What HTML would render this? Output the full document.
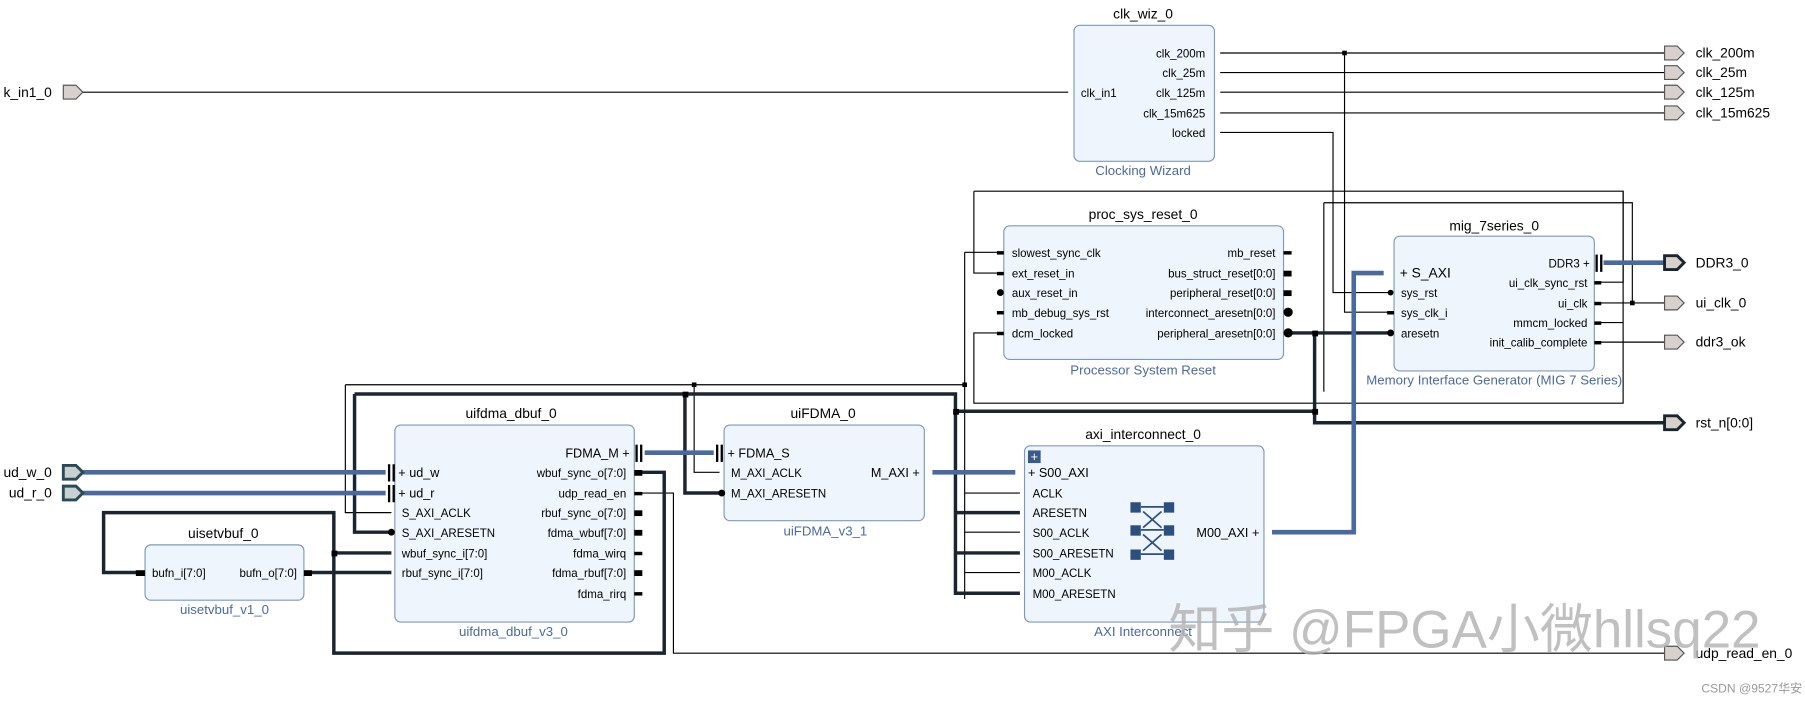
<!DOCTYPE html>
<html><head><meta charset="utf-8"><style>
html,body{margin:0;padding:0;background:#fff;width:1805px;height:705px;overflow:hidden}
svg text{font-family:"Liberation Sans","Noto Sans CJK SC",sans-serif;font-size:10px;fill:#000}
.t{font-size:12px;text-anchor:middle}
.l{font-size:11.5px;fill:#4a6a9a;text-anchor:middle}
.r{text-anchor:end}
.box{fill:#eef5fc;stroke:#7f9ab8;stroke-width:1}
.w{stroke:#000;stroke-width:1;fill:none}
.k{stroke:#1a2530;stroke-width:3;fill:none}
.b{stroke:#4a6a9f;stroke-width:4;fill:none}
.pt{fill:#d8d0cc;stroke:#555;stroke-width:1}
</style></head><body>
<svg width="1805" height="705" viewBox="0 0 1568 612" preserveAspectRatio="none" xmlns="http://www.w3.org/2000/svg">
<g class="w">
<path d="M72 80H928"/>
<path d="M1060 46H1446M1060 63H1446M1060 80H1446M1060 98H1446"/>
<path d="M1060 115H1158V254H1206"/>
<path d="M1168 46V271H1206"/>
<path d="M846 166H1410V350H846V289H866M846 166V237H866"/>
<path d="M1390 280H1410"/>
<path d="M1150 176H1418V263M1150 176V340"/>
<path d="M1390 245H1410V166"/>
<path d="M1390 263H1446M1390 297H1446"/>
<path d="M838 219H866M838 219V520"/>
<path d="M300 334H838M300 334V445H340M603 334V410H625"/>
<path d="M838 428H886M838 462H886M838 497H886"/>
<path d="M557 428H585V567H1446"/>
</g>
<g class="k">
<path d="M308 342H830V515H886M308 342V462H340M595 342V428H625M830 445H886M830 480H886"/>
<path d="M830 357H1142M1120 289H1206M1142 289V367H1446"/>
<path d="M557 410H577V567H290V445H90V497H120M290 480H340M270 497H340"/>
</g>
<g class="b">
<path d="M72 410H335M72 428H335"/>
<path d="M560 393H620M810 410H882M1105 462H1176V237H1202M1393 228H1446"/>
</g>
<g fill="#000"><rect x="1166" y="44" width="4" height="4"/><rect x="601" y="332" width="4" height="4"/><rect x="836" y="332" width="4" height="4"/><rect x="288" y="478" width="5" height="5"/><rect x="593" y="340" width="5" height="5"/><rect x="828" y="355" width="5" height="5"/><rect x="1140" y="287" width="5" height="5"/><rect x="1140" y="355" width="5" height="5"/><rect x="1416" y="261" width="4" height="4"/></g>
<g class="pt">
<path d="M55 74h11l6 6-6 6h-11z"/>
<path d="M1446 40h11l6 6-6 6h-11zM1446 57h11l6 6-6 6h-11zM1446 74h11l6 6-6 6h-11zM1446 92h11l6 6-6 6h-11z"/>
<path d="M1446 257h11l6 6-6 6h-11zM1446 291h11l6 6-6 6h-11zM1446 561h11l6 6-6 6h-11z"/>
<path d="M1446 222h11l6 6-6 6h-11zM1446 361h11l6 6-6 6h-11z" style="stroke:#1a2530;stroke-width:2.5"/>
<path d="M55 404h11l6 6-6 6h-11zM55 422h11l6 6-6 6h-11z" style="fill:#c8d0d0;stroke:#2a4a5a;stroke-width:2.5"/>
</g>
<text x="45" y="84" class="r" style="font-size:12px">k_in1_0</text>
<text x="45" y="414" class="r" style="font-size:12px">ud_w_0</text>
<text x="45" y="432" class="r" style="font-size:12px">ud_r_0</text>
<g style="font-size:12px">
<text x="1473" y="50" style="font-size:12px">clk_200m</text><text x="1473" y="67" style="font-size:12px">clk_25m</text><text x="1473" y="84" style="font-size:12px">clk_125m</text><text x="1473" y="102" style="font-size:12px">clk_15m625</text>
<text x="1473" y="232" style="font-size:12px">DDR3_0</text><text x="1473" y="267" style="font-size:12px">ui_clk_0</text><text x="1473" y="301" style="font-size:12px">ddr3_ok</text><text x="1473" y="371" style="font-size:12px">rst_n[0:0]</text><text x="1473" y="571" style="font-size:12px">udp_read_en_0</text>
</g>
<text x="993" y="16" class="t">clk_wiz_0</text>
<rect class="box" x="933" y="22" width="122" height="118" rx="5"/>
<text x="993" y="152" class="l">Clocking Wizard</text>
<text x="939" y="84">clk_in1</text>
<text x="1047" y="50" class="r">clk_200m</text><text x="1047" y="67" class="r">clk_25m</text><text x="1047" y="84" class="r">clk_125m</text><text x="1047" y="102" class="r">clk_15m625</text><text x="1047" y="119" class="r">locked</text>
<text x="993" y="190" class="t">proc_sys_reset_0</text>
<rect class="box" x="872" y="196" width="243" height="116" rx="5"/>
<text x="993" y="325" class="l">Processor System Reset</text>
<text x="879" y="223">slowest_sync_clk</text><text x="879" y="241">ext_reset_in</text><text x="879" y="258">aux_reset_in</text><text x="879" y="275">mb_debug_sys_rst</text><text x="879" y="293">dcm_locked</text>
<text x="1108" y="223" class="r">mb_reset</text><text x="1108" y="241" class="r">bus_struct_reset[0:0]</text><text x="1108" y="258" class="r">peripheral_reset[0:0]</text><text x="1108" y="275" class="r">interconnect_aresetn[0:0]</text><text x="1108" y="293" class="r">peripheral_aresetn[0:0]</text>
<g fill="#000"><rect x="866" y="218" width="6" height="3"/><rect x="866" y="236" width="6" height="3"/><rect x="866" y="270" width="6" height="3"/><rect x="866" y="288" width="6" height="3"/><circle cx="869" cy="254" r="3"/>
<rect x="1115" y="218" width="7" height="3"/><rect x="1115" y="235" width="7" height="5"/><rect x="1115" y="252" width="7" height="5"/><circle cx="1119" cy="271" r="4"/><circle cx="1119" cy="289" r="4"/></g>
<text x="1298" y="200" class="t">mig_7series_0</text>
<rect class="box" x="1211" y="205" width="174" height="117" rx="5"/>
<text x="1298" y="334" class="l">Memory Interface Generator (MIG 7 Series)</text>
<text x="1216" y="241" style="font-size:12px">+ S_AXI</text><text x="1217" y="258">sys_rst</text><text x="1217" y="275">sys_clk_i</text><text x="1217" y="293">aresetn</text>
<text x="1381" y="232" class="r">DDR3 +</text><text x="1379" y="249" class="r">ui_clk_sync_rst</text><text x="1379" y="267" class="r">ui_clk</text><text x="1379" y="284" class="r">mmcm_locked</text><text x="1379" y="301" class="r">init_calib_complete</text>
<g fill="#000"><circle cx="1208" cy="254" r="2.5"/><circle cx="1208" cy="289" r="3"/><rect x="1205" y="270" width="6" height="3"/><rect x="1385" y="244" width="6" height="3"/><rect x="1385" y="262" width="6" height="3"/><rect x="1385" y="279" width="6" height="3"/><rect x="1385" y="296" width="6" height="3"/><rect x="1386" y="221" width="2" height="15"/><rect x="1390" y="221" width="2" height="15"/></g>
<text x="444" y="363" class="t">uifdma_dbuf_0</text>
<rect class="box" x="343" y="369" width="208" height="171" rx="5"/>
<text x="446" y="552" class="l">uifdma_dbuf_v3_0</text>
<text x="346" y="414" style="font-size:11px">+ ud_w</text><text x="346" y="432" style="font-size:11px">+ ud_r</text><text x="349" y="449">S_AXI_ACLK</text><text x="349" y="466">S_AXI_ARESETN</text><text x="349" y="484">wbuf_sync_i[7:0]</text><text x="349" y="501">rbuf_sync_i[7:0]</text>
<text x="547" y="397" class="r" style="font-size:11px">FDMA_M +</text><text x="544" y="414" class="r">wbuf_sync_o[7:0]</text><text x="544" y="432" class="r">udp_read_en</text><text x="544" y="449" class="r">rbuf_sync_o[7:0]</text><text x="544" y="466" class="r">fdma_wbuf[7:0]</text><text x="544" y="484" class="r">fdma_wirq</text><text x="544" y="501" class="r">fdma_rbuf[7:0]</text><text x="544" y="519" class="r">fdma_rirq</text>
<g fill="#000"><rect x="337" y="403" width="2" height="15"/><rect x="341" y="403" width="2" height="15"/><rect x="337" y="421" width="2" height="15"/><rect x="341" y="421" width="2" height="15"/><rect x="552" y="386" width="2" height="15"/><rect x="556" y="386" width="2" height="15"/>
<rect x="551" y="408" width="7" height="5"/><rect x="551" y="427" width="7" height="3"/><rect x="551" y="443" width="7" height="5"/><rect x="551" y="460" width="7" height="5"/><rect x="551" y="479" width="7" height="3"/><rect x="551" y="495" width="7" height="5"/><rect x="551" y="514" width="7" height="3"/><circle cx="340" cy="462" r="3"/></g>
<text x="715" y="363" class="t">uiFDMA_0</text>
<rect class="box" x="629" y="369" width="174" height="83" rx="5"/>
<text x="717" y="465" class="l">uiFDMA_v3_1</text>
<text x="632" y="397" style="font-size:11px">+ FDMA_S</text><text x="635" y="414">M_AXI_ACLK</text><text x="635" y="432">M_AXI_ARESETN</text>
<text x="799" y="414" class="r" style="font-size:11px">M_AXI +</text>
<g fill="#000"><rect x="622" y="386" width="2" height="15"/><rect x="626" y="386" width="2" height="15"/><circle cx="627" cy="428" r="3"/></g>
<text x="993" y="381" class="t">axi_interconnect_0</text>
<rect class="box" x="890" y="387" width="208" height="153" rx="5"/>
<text x="993" y="552" class="l">AXI Interconnect</text>
<rect x="893" y="391" width="11" height="11" fill="#3a5a8a"/><text x="898.5" y="400" style="fill:#fff;font-size:11px;text-anchor:middle">+</text>
<text x="893" y="414" style="font-size:11px">+ S00_AXI</text><text x="897" y="432">ACLK</text><text x="897" y="449">ARESETN</text><text x="897" y="466">S00_ACLK</text><text x="897" y="484">S00_ARESETN</text><text x="897" y="501">M00_ACLK</text><text x="897" y="519">M00_ARESETN</text>
<text x="1094" y="466" class="r" style="font-size:11px">M00_AXI +</text>
<g fill="#2d4f80"><rect x="982" y="436" width="9" height="9"/><rect x="1011" y="436" width="9" height="9"/><rect x="982" y="456" width="9" height="9"/><rect x="1011" y="456" width="9" height="9"/><rect x="982" y="477" width="9" height="9"/><rect x="1011" y="477" width="9" height="9"/></g>
<path d="M991 440H1011M991 460H1011M991 481H1011M993 444L1009 458M1009 444L993 458M993 464L1009 478M1009 464L993 478" stroke="#2d4f80" stroke-width="1.5"/>
<text x="194" y="467" class="t">uisetvbuf_0</text>
<rect class="box" x="126" y="473" width="138" height="48" rx="5"/>
<text x="195" y="533" class="l">uisetvbuf_v1_0</text>
<text x="132" y="501">bufn_i[7:0]</text><text x="258" y="501" class="r">bufn_o[7:0]</text>
<g fill="#000"><rect x="118" y="495" width="8" height="5"/><rect x="264" y="495" width="7" height="5"/></g>
<text x="1015" y="562" style="font-size:46px;fill:#b0b0b0;fill-opacity:0.8">知乎 @FPGA小微hllsq22</text>
<text x="1478" y="601" style="font-size:10.5px;fill:#999">CSDN @9527华安</text>
</svg>
</body></html>
